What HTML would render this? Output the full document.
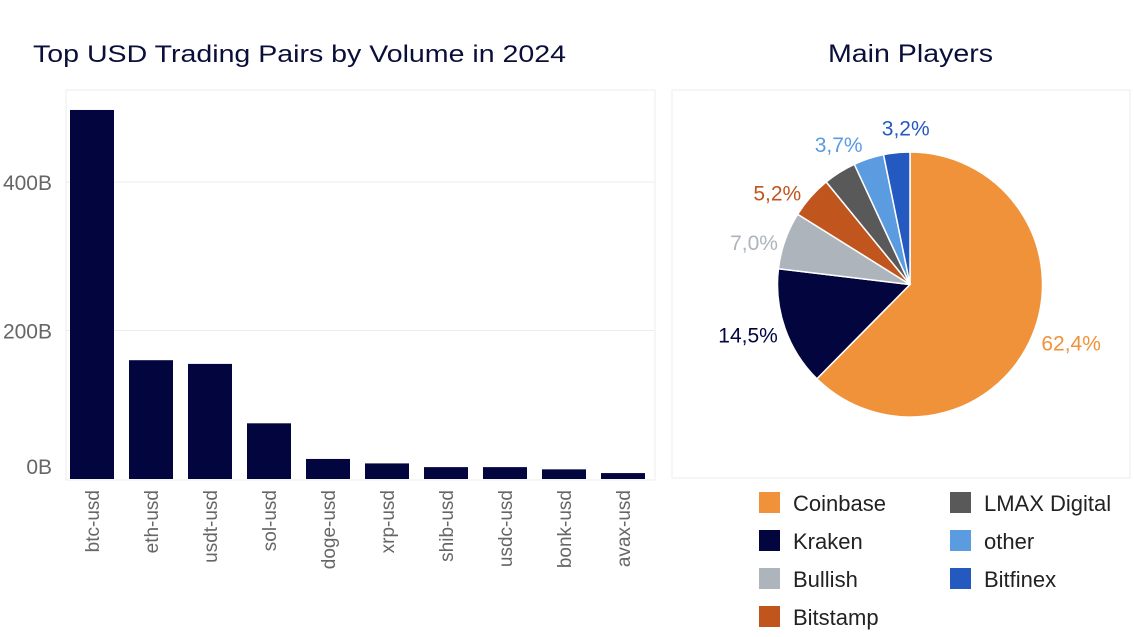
<!DOCTYPE html>
<html><head><meta charset="utf-8"><style>
body{margin:0;background:#fff;font-family:"Liberation Sans",sans-serif}
svg{display:block}
</style></head><body>
<svg id="c" width="1134" height="637" xmlns="http://www.w3.org/2000/svg" font-family="Liberation Sans, sans-serif">
<text x="33" y="62" font-size="24" fill="#0a0f3a" textLength="533" lengthAdjust="spacingAndGlyphs">Top USD Trading Pairs by Volume in 2024</text>
<text x="828" y="62" font-size="25" fill="#0a0f3a" textLength="165" lengthAdjust="spacingAndGlyphs">Main Players</text>
<rect x="66" y="90" width="589" height="390" fill="none" stroke="#eeeeee"/>
<rect x="672" y="90" width="458" height="388" fill="none" stroke="#eeeeee"/>
<g id="bars"></g><g id="pie"></g><g id="legend"></g>
</svg>
<script>
const categories=["btc-usd","eth-usd","usdt-usd","sol-usd","doge-usd","xrp-usd","shib-usd","usdc-usd","bonk-usd","avax-usd"];
const volumes=[497,160,155,75,27,21,16,16,13,8];
const yTicks=[0,200,400];
const yTickLabels=["0B","200B","400B"];
const players=["Coinbase","Kraken","Bullish","Bitstamp","LMAX Digital","other","Bitfinex"];
const shares=[62.4,14.5,7.0,5.2,4.0,3.7,3.2];
const shareLabels=["62,4%","14,5%","7,0%","5,2%","","3,7%","3,2%"];
const colors=["#f0923a","#03053f","#aeb4bc","#c0561e","#595959","#5b9be0","#2459c0"];
const NS="http://www.w3.org/2000/svg";
function mk(t,a,p){const e=document.createElementNS(NS,t);for(const k in a)e.setAttribute(k,a[k]);p.appendChild(e);return e;}
const y=v=>479-v*148.5/200;
const x=i=>70+i*59;
const bg=document.getElementById('bars');
yTicks.forEach((t,i)=>{
  if(t>0){const g=mk('line',{x1:66,x2:655,y1:y(t),y2:y(t),stroke:'#ececec'},bg);
  
  }
  const l=mk('text',{x:52,y:y(t)+(t==0?-5:8),'font-size':21,fill:'#666','text-anchor':'end'},bg);
  l.textContent=yTickLabels[i];
  
  
});
categories.forEach((c,i)=>{
  const r=mk('rect',{x:x(i),y:y(volumes[i]),width:44,height:479-y(volumes[i]),fill:'#03053f'},bg);
  
  
  const cx=x(i)+22;
  const t=mk('text',{x:cx,y:490,'font-size':19,fill:'#666','text-anchor':'end',transform:`rotate(-90 ${cx} 490) translate(0 7)`},bg);
  t.textContent=c;
  
  
});
const pg=document.getElementById('pie');
const cx=910,cy=284.5,R=132.5;
const tot=shares.reduce((a,b)=>a+b,0);
let a0=-Math.PI/2;
const labelR=[142,140,140,145,0,152,162];
shares.forEach((s,i)=>{
  const a1=a0+s/tot*2*Math.PI;
  const p=`M${cx},${cy}L${cx+R*Math.cos(a0)},${cy+R*Math.sin(a0)}A${R},${R} 0 ${(a1-a0)>Math.PI?1:0} 1 ${cx+R*Math.cos(a1)},${cy+R*Math.sin(a1)}Z`;
  const e=mk('path',{d:p,fill:colors[i],stroke:'#fff','stroke-width':1.5},pg);
  
  
  if(shareLabels[i]){
    const am=(a0+a1)/2;
    const lx=cx+labelR[i]*Math.cos(am),ly=cy+labelR[i]*Math.sin(am);
    const anchor=Math.cos(am)>0.2?'start':(Math.cos(am)<-0.2?'end':'middle');
    const t=mk('text',{x:lx+(anchor==='middle'?12:0),y:ly+12,'font-size':21,fill:colors[i],'text-anchor':anchor},pg);
    t.textContent=shareLabels[i];
    
    
  }
  a0=a1;
});
const lg=document.getElementById('legend');
players.forEach((p,i)=>{
  const col=i<4?0:1,row=i<4?i:i-4;
  const sx=col?950:759,sy=492+row*38;
  const r=mk('rect',{x:sx,y:sy,width:21,height:21,fill:colors[i]},lg);
  
  
  const t=mk('text',{x:sx+34,y:sy+19,'font-size':22,fill:'#222'},lg);
  t.textContent=p;
  
  
});
</script>
</body></html>
